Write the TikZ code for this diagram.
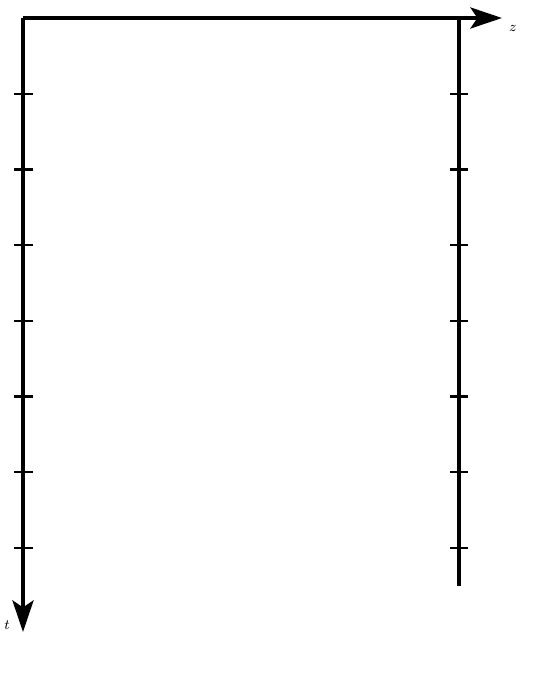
\documentclass[tikz,border=0pt]{standalone}
\usepackage{amsmath}
\usepackage{amssymb}
\usetikzlibrary{arrows.meta}

\begin{document}
\begin{tikzpicture}[x=0.02cm,y=-0.02cm]
		\tikzset{axis/.style={line width=2pt,-{Stealth[length=18pt,width=12pt,inset=4pt]}},tickmark/.style={line width=1.3pt}};
		\useasboundingbox (0,0) rectangle (548,690);
		\coordinate (O) at (23,18);
		\coordinate (zend) at (502,18);
		\coordinate (tend) at (23,632);
		\coordinate (Rtop) at (459,18);
		\coordinate (Rbot) at (459,586);
		\draw[axis] (O)--(zend);
		\draw[axis] (O)--(tend);
		\draw[line width=2pt] (Rtop)--(Rbot);
		\node[font=\footnotesize] (zlab) at (513,28) {$z$};
		\node[font=\footnotesize] (tlab) at (7,625) {$t$};
		\foreach \k in {1,...,7}{
			\draw[tickmark] (14,18+75.7*\k)--(33,18+75.7*\k);
			\draw[tickmark] (450,18+75.7*\k)--(468,18+75.7*\k);
		}
	\end{tikzpicture}
\end{document}
